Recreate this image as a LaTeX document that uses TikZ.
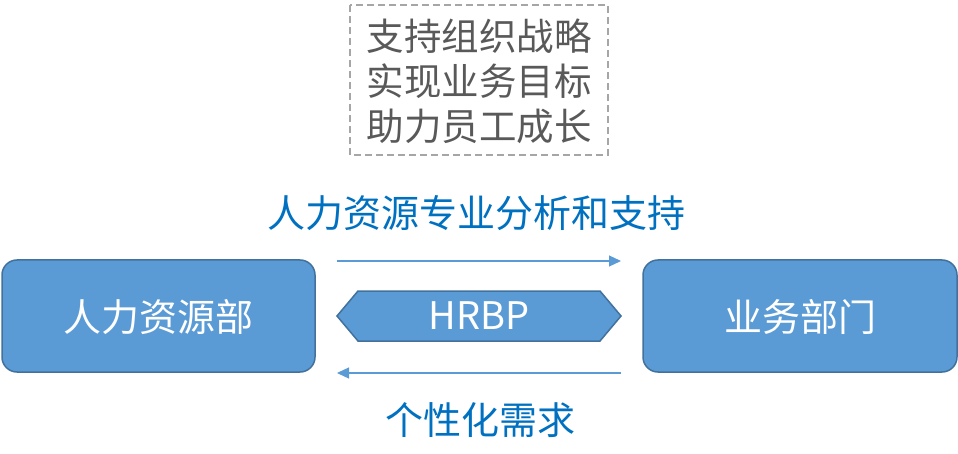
\documentclass[tikz,border=0pt]{standalone}
\usepackage{fontspec}
\newfontfamily\cjk{Noto Sans CJK SC}
\usetikzlibrary{arrows.meta}
\definecolor{boxfill}{HTML}{5B9BD5}
\definecolor{boxline}{HTML}{41719C}
\definecolor{txtblue}{HTML}{0070C0}
\definecolor{txtgray}{HTML}{595959}
\definecolor{dashgray}{HTML}{A6A6A6}
\tikzset{
  unitbox/.style={draw=boxline, fill=boxfill, line width=1.5pt, rounded corners=15pt},
  boxtext/.style={text=white, font=\cjk\fontsize{38}{44}\selectfont, inner sep=0pt},
  bluetext/.style={text=txtblue, font=\cjk\fontsize{38}{44}\selectfont, inner sep=0pt},
  flowarrow/.style={draw=boxfill, line width=1.2pt, -{Triangle[length=12pt,width=11pt]}},
  goalbox/.style={draw=dashgray, line width=1.5pt, dash pattern=on 7pt off 4pt}
}
\begin{document}
\begin{tikzpicture}[x=1pt,y=-1pt]
\useasboundingbox (0,0) rectangle (958,454);
% goal box
\draw[goalbox] (350,5) rectangle (608,155);
\node[text=txtgray, font=\cjk\fontsize{37.5}{45}\selectfont, align=center, inner sep=0pt] (goal) at (479,81) {支持组织战略\\实现业务目标\\助力员工成长};
% top label
\node[bluetext] (toplabel) at (476,213) {人力资源专业分析和支持};
% boxes
\draw[unitbox] (2,260) rectangle (315,372);
\node[boxtext] (hr) at (158.5,317) {人力资源部};
\draw[unitbox] (643,260) rectangle (957,372);
\node[boxtext] (biz) at (800,317) {业务部门};
% HRBP hexagon
\draw[draw=boxline, fill=boxfill, line width=1.5pt] (337,316) -- (358,291) -- (600,291) -- (621,316) -- (600,341) -- (358,341) -- cycle;
\node[boxtext] (hrbp) at (479,316) {HRBP};
% arrows
\coordinate (t1) at (337,261);
\coordinate (t2) at (621,261);
\coordinate (b1) at (621,373);
\coordinate (b2) at (337,373);
\draw[flowarrow] (t1) -- (t2);
\draw[flowarrow] (b1) -- (b2);
% bottom label
\node[bluetext] (botlabel) at (480,420) {个性化需求};
\end{tikzpicture}
\end{document}
